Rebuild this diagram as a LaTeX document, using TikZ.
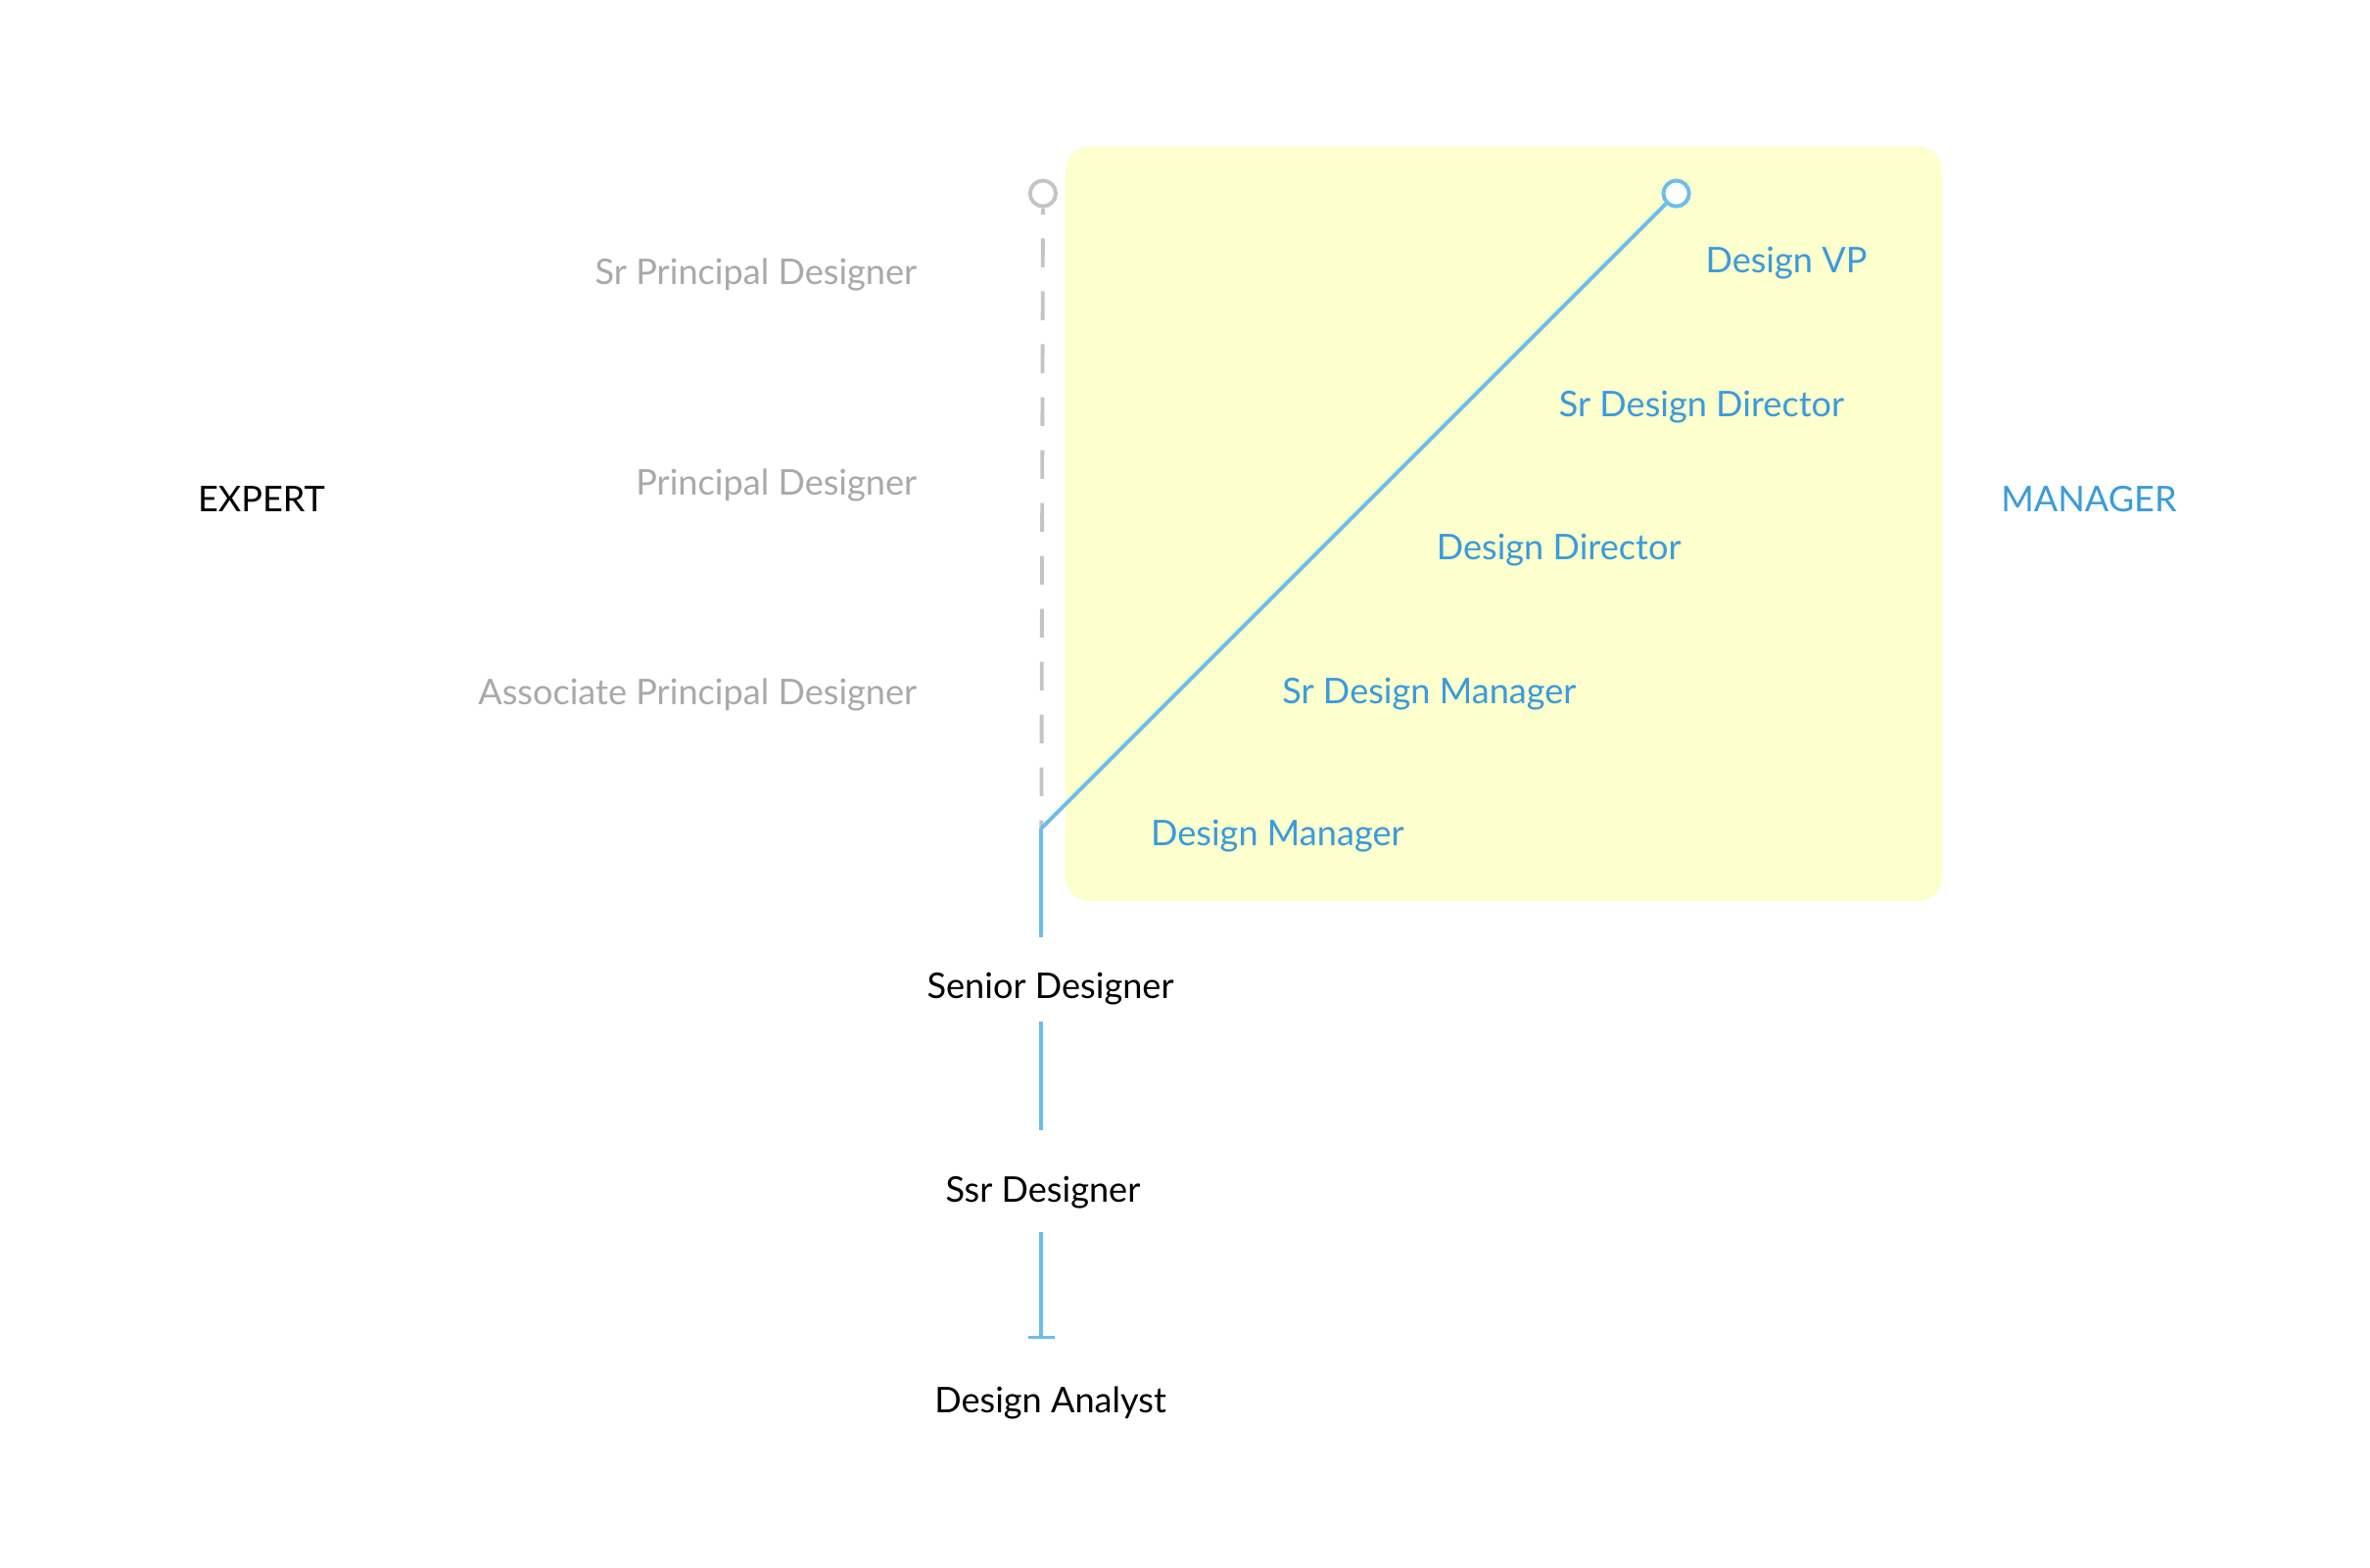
\documentclass[tikz,border=0pt]{standalone}
\usepackage{fontspec}
\setmainfont{Lato}
\usetikzlibrary{arrows.meta}
\definecolor{boxyellow}{HTML}{FDFFCC}
\definecolor{txtblue}{HTML}{3A9BDC}
\definecolor{lnblue}{HTML}{6BBDEB}
\definecolor{txtgray}{HTML}{A9A9A9}
\definecolor{lngray}{HTML}{C4C4C4}
\tikzset{
  lab/.style={font=\fontsize{11.7pt}{13pt}\selectfont, inner sep=0pt, yshift=-1pt},
  mgr/.style={lab, text=txtblue, anchor=west},
  expl/.style={lab, text=txtgray, anchor=east},
  stage/.style={lab, text=black},
  bline/.style={draw=lnblue, line width=1.25pt},
  gline/.style={draw=lngray, line width=1.25pt},
  endring/.style={circle, minimum size=8.5pt, inner sep=0pt, line width=1.25pt, fill=white}
}
\begin{document}
\begin{tikzpicture}[x=0.5pt,y=-0.5pt]
\useasboundingbox[fill=white] (0,0) rectangle (1568,1036.7);
% manager area
\fill[boxyellow, rounded corners=8pt] (705,97) rectangle (1285,596);
% nodes
\node[endring, draw=lngray] (gtop) at (690,128) {};
\node[endring, draw=lnblue] (btop) at (1109,128) {};
\coordinate (j) at (689,548);
\coordinate (s1) at (689,620);
\coordinate (s2) at (689,676);
\coordinate (s3) at (689,748);
\coordinate (s4) at (689,815);
\coordinate (s5) at (689,886);
% connectors
\draw[gline, dash pattern=on 9.5pt off 8pt, dash phase=-10pt] (gtop.south) -- (j);
\draw[bline] (j) -- (btop.south west);
\draw[bline] (j) -- (s1);
\draw[bline] (s2) -- (s3);
\draw[bline, -{Bar[width=9pt, line width=1.25pt]}] (s4) -- (s5);
% labels
\node[lab] (expert) at (173,328) {EXPERT};
\node[lab, text=txtblue] (manager) at (1382,328) {MANAGER};
\node[expl] (spd) at (607,180) {Sr Principal Designer};
\node[expl] (pd) at (607,319) {Principal Designer};
\node[expl] (apd) at (607,458) {Associate Principal Designer};
\node[mgr] (vp) at (1128,172) {Design VP};
\node[mgr] (sdd) at (1031,267) {Sr Design Director};
\node[mgr] (dd) at (950,362) {Design Director};
\node[mgr] (sdm) at (848,457) {Sr Design Manager};
\node[mgr] (dm) at (761,551) {Design Manager};
\node[stage] (sd) at (695,652) {Senior Designer};
\node[stage] (ssr) at (690,787) {Ssr Designer};
\node[stage] (da) at (695,926) {Design Analyst};
\end{tikzpicture}
\end{document}
